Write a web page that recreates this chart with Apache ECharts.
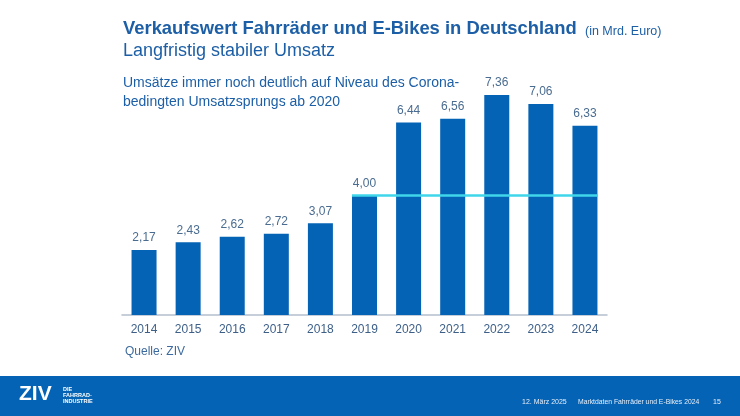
<!DOCTYPE html>
<html>
<head>
<meta charset="utf-8">
<script src="https://cdn.jsdelivr.net/npm/echarts@6/dist/echarts.min.js"></script>
<style>
html,body{margin:0;padding:0;background:#fff;}
#c{width:740px;height:416px;}
</style>
</head>
<body>
<div id="c"></div>
<script>
var years = ['2014','2015','2016','2017','2018','2019','2020','2021','2022','2023','2024'];
var values = [2.17, 2.43, 2.62, 2.72, 3.07, 4.00, 6.44, 6.56, 7.36, 7.06, 6.33];
var refLine = { from: '2019', to: '2024', value: 4.00 };

var titleMain = 'Verkaufswert Fahrräder und E-Bikes in Deutschland';
var titleUnit = '(in Mrd. Euro)';
var subtitle = 'Langfristig stabiler Umsatz';
var note = ['Umsätze immer noch deutlich auf Niveau des Corona-', 'bedingten Umsatzsprungs ab 2020'];
var source = 'Quelle: ZIV';
var footerDate = '12. März 2025';
var footerTitle = 'Marktdaten Fahrräder und E-Bikes 2024';
var footerPage = '15';

var FONT = '"Liberation Sans", Arial, sans-serif';
var BLUE = '#0563b5';
var TEXT = '#1d5fa6';

var chart = echarts.init(document.getElementById('c'));
var option = {
  animation: false,
  backgroundColor: '#fff',
  textStyle: { fontFamily: FONT },
  grid: { left: 122, right: 133, top: 16, bottom: 101 },
  xAxis: {
    type: 'category',
    data: years,
    axisLine: { lineStyle: { color: '#b3bfcd', width: 1.5 } },
    axisTick: { show: false },
    axisLabel: { color: '#3d5f88', fontSize: 12, margin: 9, fontFamily: FONT }
  },
  yAxis: { type: 'value', min: 0, max: 10, show: false, splitLine: { show: false } },
  series: [
    {
      type: 'bar',
      data: values,
      barWidth: 25,
      itemStyle: { color: BLUE },
      label: {
        show: true, position: 'top', distance: 6,
        color: '#4a6c90', fontSize: 12, fontFamily: FONT,
        formatter: function (p) { return p.value.toFixed(2).replace('.', ','); }
      },
      z: 2
    },
    {
      type: 'custom',
      data: [[years.indexOf(refLine.from), years.indexOf(refLine.to), refLine.value]],
      renderItem: function (params, api) {
        var a = api.coord([api.value(0), api.value(2)]);
        var b = api.coord([api.value(1), api.value(2)]);
        return {
          type: 'line',
          shape: { x1: a[0] - 12.5, y1: a[1], x2: b[0] + 12.5, y2: b[1] },
          style: { stroke: '#3fd6ea', lineWidth: 2.5 }
        };
      },
      z: 5,
      silent: true
    }
  ],
  graphic: [
    { type: 'text', left: 123, top: 20, style: { text: titleMain, font: 'bold 18.4px ' + FONT, fill: TEXT } },
    { type: 'text', left: 585, top: 25, style: { text: titleUnit, font: '12.5px ' + FONT, fill: TEXT } },
    { type: 'text', left: 123, top: 42, style: { text: subtitle, font: '18px ' + FONT, fill: TEXT } },
    { type: 'text', left: 123, top: 74, style: { text: note.join('\n'), font: '14px ' + FONT, fill: TEXT, lineHeight: 19 } },
    { type: 'text', left: 125, top: 346, style: { text: source, font: '12px ' + FONT, fill: '#3d6a9e' } },
    { type: 'rect', shape: { x: 0, y: 376, width: 740, height: 40 }, style: { fill: BLUE } },
    { type: 'text', left: 19, top: 384, style: { text: 'ZIV', font: 'bold 21px ' + FONT, fill: '#fff' } },
    { type: 'text', left: 63, top: 386.5, style: { text: 'DIE\nFAHRRAD-\nINDUSTRIE', font: 'bold 5.5px ' + FONT, fill: '#fff', lineHeight: 6 } },
    { type: 'text', left: 522, top: 398.5, style: { text: footerDate, font: '7px ' + FONT, fill: '#e6eef8' } },
    { type: 'text', left: 578, top: 398.5, style: { text: footerTitle, font: '6.8px ' + FONT, fill: '#e6eef8' } },
    { type: 'text', left: 713, top: 398.5, style: { text: footerPage, font: '7px ' + FONT, fill: '#e6eef8' } }
  ]
};
chart.setOption(option);
</script>
</body>
</html>
